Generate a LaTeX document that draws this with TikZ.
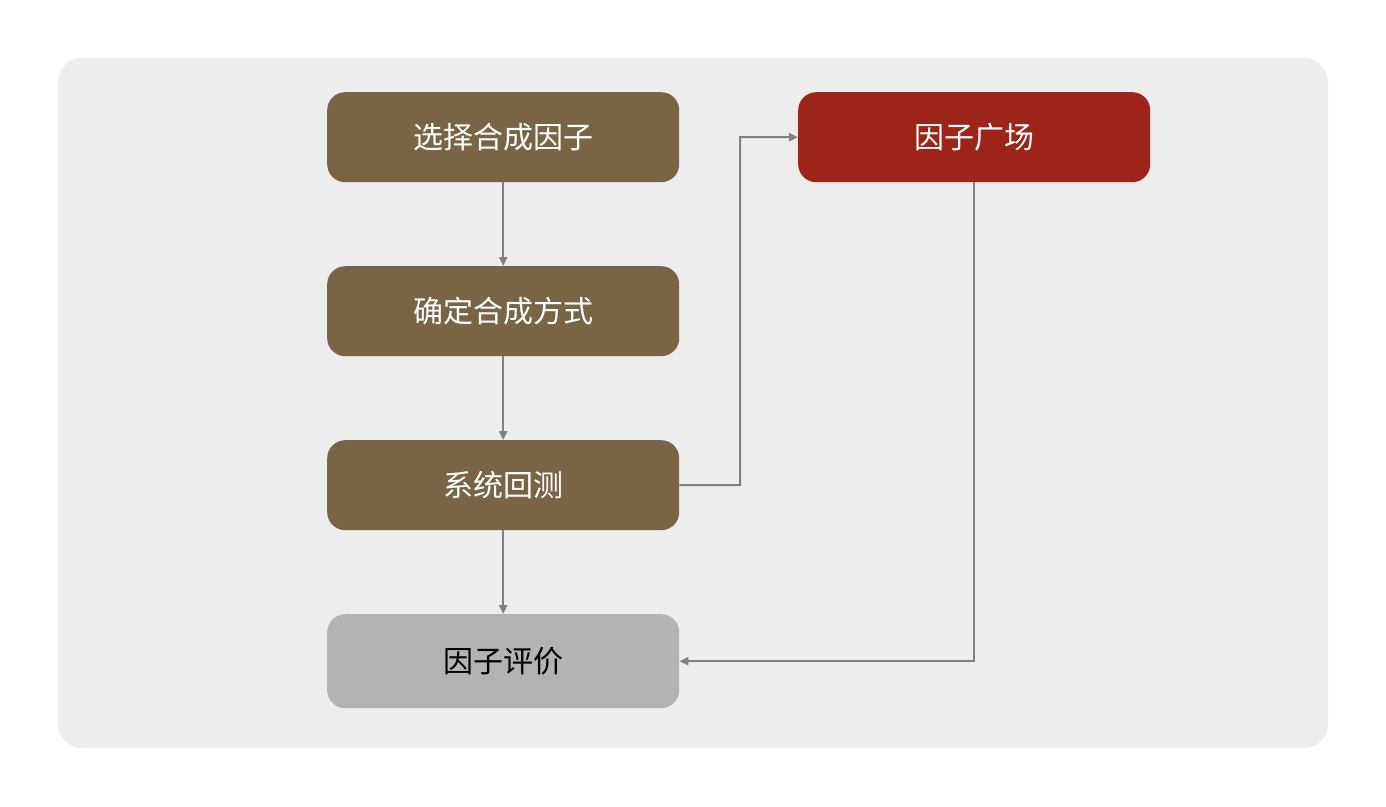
\documentclass[tikz,border=0pt]{standalone}
\usepackage{fontspec}
\newfontfamily\cjk{Noto Sans CJK SC}
\usetikzlibrary{arrows.meta}
\definecolor{panelgray}{HTML}{EDEDED}
\definecolor{boxbrown}{HTML}{7A6446}
\definecolor{boxred}{HTML}{9C2419}
\definecolor{boxgray}{HTML}{B3B3B3}
\definecolor{linkgray}{HTML}{808080}
\begin{document}
\begin{tikzpicture}[
        x=1pt, y=-1pt,
        font=\cjk\fontsize{30}{36}\selectfont,
        stepbox/.style={
            rectangle, rounded corners=18pt, draw=none,
            minimum width=352pt, minimum height=90pt,
            text=white, anchor=north west
        },
        link/.style={-{Triangle[length=9pt,width=8pt]}, draw=linkgray, line width=2pt}
    ]
        \useasboundingbox (0,0) rectangle (1386,806);
        % Fondo
        \fill[white] (0,0) rectangle (1386,806);
        \fill[panelgray, rounded corners=24pt] (58,58) rectangle (1328,748);

        % Pasos
        \node[stepbox, fill=boxbrown] (pick) at (327,92) {选择合成因子};
        \node[stepbox, fill=boxbrown] (mode) at (327,266) {确定合成方式};
        \node[stepbox, fill=boxbrown] (test) at (327,440) {系统回测};
        \node[stepbox, fill=boxgray, text=black, minimum height=94pt] (eval) at (327,614) {因子评价};
        \node[stepbox, fill=boxred] (plaza) at (798,92) {因子广场};

        % Conexiones
        \draw[link] (pick) -- (mode);
        \draw[link] (mode) -- (test);
        \draw[link] (test) -- (eval);
        \draw[link] (test.east) -| (740,137) -- (plaza.west);
        \draw[link] (plaza.south) |- (eval.east);

    \end{tikzpicture}
\end{document}
